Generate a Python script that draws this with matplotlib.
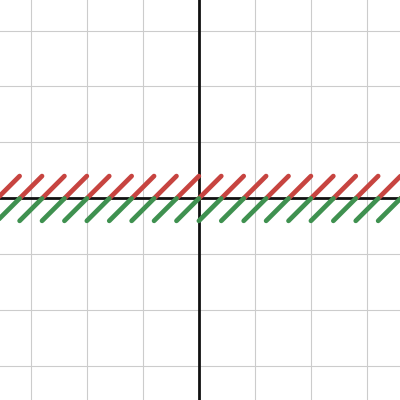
import numpy as np
import matplotlib
matplotlib.use("Agg")
import matplotlib.pyplot as plt

step = 0.4
seg_len = 0.4
red_x_ends = [round(k * step, 2) for k in range(-9, 11)]
fig = plt.figure(figsize=(4, 4), dpi=100)
ax = fig.add_axes([0, 0, 1, 1])
ax.set_xlim(-3.55, 3.59)
ax.set_ylim(-3.6, 3.545)
for v in range(-4, 5):
    ax.axvline(v, color="#cccccc", lw=0.8, zorder=0)
    ax.axhline(v, color="#cccccc", lw=0.8, zorder=0)
ax.axhline(0, color="#111111", lw=2, zorder=1)
ax.axvline(0, color="#111111", lw=2, zorder=1)
for xe in red_x_ends:
    ax.plot([xe - seg_len, xe], [0, seg_len], color="#c74440", lw=3.4, solid_capstyle="round", zorder=2)
    ax.plot([xe - 2 * seg_len, xe - seg_len], [-seg_len, 0], color="#3f9150", lw=3.4, solid_capstyle="round", zorder=2)
ax.axis("off")
fig.savefig("out.png", dpi=100)
